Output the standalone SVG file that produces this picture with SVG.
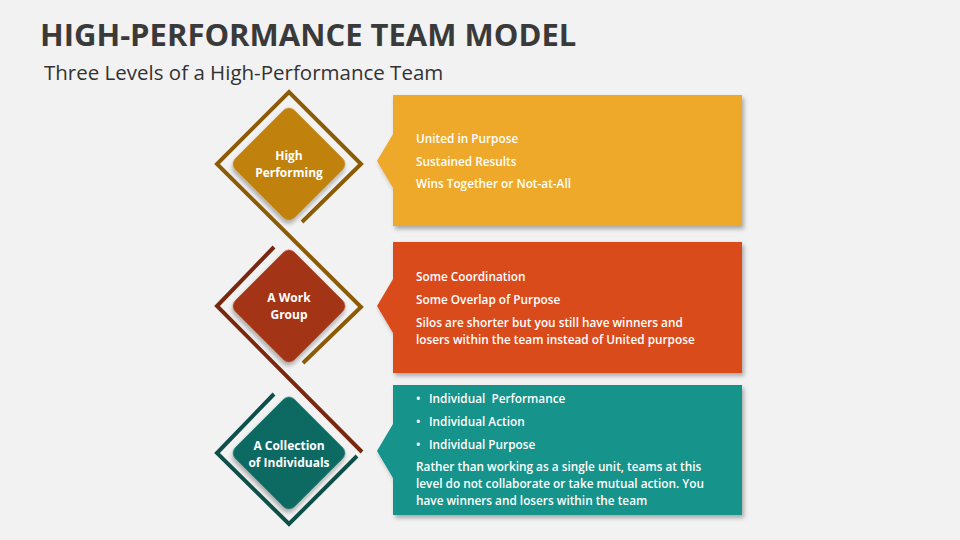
<svg xmlns="http://www.w3.org/2000/svg" width="960" height="540" viewBox="0 0 960 540">
<defs>
<filter id="sh" x="-10%" y="-10%" width="125%" height="130%"><feDropShadow dx="2" dy="3" stdDeviation="2" flood-color="#000" flood-opacity="0.3"/></filter>
<style>
.t{font-family:"Open Sans","Liberation Sans",sans-serif;fill:#fff;font-weight:600;font-size:11.8px}
.d{font-family:"Open Sans","Liberation Sans",sans-serif;fill:#fff;font-weight:700;font-size:12px;text-anchor:middle}
.ln{fill:none;stroke-width:4;stroke-linejoin:miter}
</style>
</defs>
<rect width="960" height="540" fill="#F2F2F2"/>
<text x="40" y="46" font-family="'Open Sans','Liberation Sans',sans-serif" font-weight="700" font-size="31" fill="#3a3a3a">HIGH-PERFORMANCE TEAM MODEL</text>
<text x="44" y="80" font-family="'Open Sans','Liberation Sans',sans-serif" font-size="20.5" fill="#333">Three Levels of a High-Performance Team</text>
<g id="connectors">
<polyline class="ln" stroke="#8C5B06" points="302,222 361,164 289,92 217,164 361,307 303,363"/>
<polyline class="ln" stroke="#7A2710" points="274,247 217,306 362,452"/>
<polyline class="ln" stroke="#0E4F4A" points="274,394 217,453 289,524 357,456"/>
</g>
<g id="n1">
<rect x="247" y="122" width="84" height="84" rx="8" fill="#C0820F" transform="rotate(45 289 164)" filter="url(#sh)"/>
<text class="d" x="289" y="160">High</text><text class="d" x="289" y="177">Performing</text>
</g>
<g id="n2">
<rect x="247" y="264" width="84" height="84" rx="8" fill="#A33516" transform="rotate(45 289 306)" filter="url(#sh)"/>
<text class="d" x="289" y="302">A Work</text><text class="d" x="289" y="319">Group</text>
</g>
<g id="n3">
<rect x="247" y="411" width="84" height="84" rx="8" fill="#0E6B63" transform="rotate(45 289 453)" filter="url(#sh)"/>
<text class="d" x="289" y="450">A Collection</text><text class="d" x="289" y="467">of Individuals</text>
</g>
<g id="b1">
<path d="M393,95 H742 V226 H393 V188 L377,161 L393,134 Z" fill="#EFA929" filter="url(#sh)"/>
<text class="t" x="416" y="143">United in Purpose</text>
<text class="t" x="416" y="166">Sustained Results</text>
<text class="t" x="416" y="188">Wins Together or Not-at-All</text>
</g>
<g id="b2">
<path d="M393,242 H742 V373 H393 V333 L377,306 L393,279 Z" fill="#DA4C1C" filter="url(#sh)"/>
<text class="t" x="416" y="281">Some Coordination</text>
<text class="t" x="416" y="304">Some Overlap of Purpose</text>
<text class="t" x="416" y="327">Silos are shorter but you still have winners and</text>
<text class="t" x="416" y="344">losers within the team instead of United purpose</text>
</g>
<g id="b3">
<path d="M393,385 H742 V515 H393 V478 L377,451 L393,424 Z" fill="#12938A" filter="url(#sh)"/>
<text class="t" x="416" y="403">•</text><text class="t" x="429" y="403" xml:space="preserve">Individual  Performance</text>
<text class="t" x="416" y="426">•</text><text class="t" x="429" y="426">Individual Action</text>
<text class="t" x="416" y="449">•</text><text class="t" x="429" y="449">Individual Purpose</text>
<text class="t" x="416" y="471">Rather than working as a single unit, teams at this</text>
<text class="t" x="416" y="488">level do not collaborate or take mutual action. You</text>
<text class="t" x="416" y="505">have winners and losers within the team</text>
</g>
</svg>
